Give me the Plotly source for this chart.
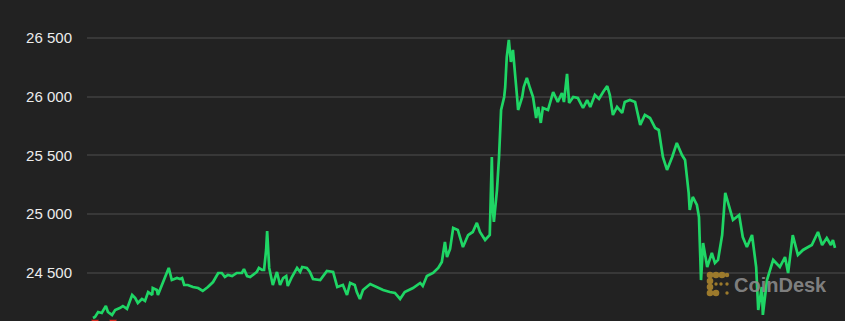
import plotly.graph_objects as go

# minutes since start of the window
minutes = [0, 4, 10, 17, 25, 29, 37, 43, 52, 58, 66, 76, 82, 87, 95, 101, 107, 115, 116, 124,
           126, 134, 144, 147, 153, 163, 169, 173, 177, 184, 194, 204, 213, 223, 233, 243, 250, 256, 262, 270,
           279, 289, 293, 299, 305, 311, 318, 322, 328, 332, 336, 338, 340, 342, 349, 357, 363, 369, 375, 378,
           386, 396, 402, 406, 415, 421, 427, 441, 454, 466, 474, 485, 493, 499, 508, 512, 518, 524, 538, 551,
           563, 576, 586, 596, 605, 621, 635, 640, 648, 660, 670, 677, 683, 687, 693, 699, 708, 718, 728, 737,
           745, 751, 761, 770, 772, 774, 776, 778, 784, 788, 792, 798, 800, 803, 807, 811, 815, 817, 823, 825,
           833, 836, 842, 848, 854, 860, 864, 869, 873, 883, 893, 902, 910, 914, 920, 924, 932, 941, 951, 959,
           965, 974, 982, 990, 998, 1003, 1009, 1017, 1027, 1032, 1042, 1052, 1062, 1071, 1081, 1091, 1098, 1106, 1114, 1124,
           1133, 1143, 1149, 1156, 1158, 1164, 1172, 1176, 1180, 1184, 1192, 1201, 1207, 1213, 1221, 1227, 1232, 1242, 1254, 1261,
           1269, 1279, 1287, 1291, 1298, 1300, 1308, 1320, 1333, 1343, 1349, 1358, 1368, 1378, 1388, 1395, 1407, 1415, 1424, 1432,
           1436, 1440]

price = [24117, 24126, 24168, 24160, 24219, 24168, 24143, 24185, 24202, 24219, 24194, 24313, 24287, 24245, 24279, 24262, 24338, 24313, 24372, 24355,
         24313, 24398, 24509, 24543, 24440, 24457, 24449, 24457, 24398, 24398, 24381, 24372, 24347, 24381, 24423, 24500, 24500, 24466, 24483, 24474,
         24500, 24500, 24534, 24474, 24466, 24483, 24509, 24543, 24526, 24526, 24696, 24857, 24738, 24543, 24398, 24509, 24398, 24457, 24474, 24389,
         24466, 24543, 24509, 24551, 24543, 24509, 24449, 24440, 24517, 24509, 24381, 24398, 24313, 24415, 24398, 24338, 24279, 24355, 24406, 24381,
         24355, 24338, 24330, 24279, 24338, 24372, 24415, 24389, 24474, 24500, 24543, 24594, 24764, 24636, 24704, 24883, 24866, 24721, 24823, 24849,
         24926, 24849, 24781, 24823, 25121, 25487, 25036, 24934, 25206, 25487, 25887, 25998, 26083, 26338, 26483, 26296, 26398, 26313, 25998, 25887,
         25998, 26083, 26160, 26074, 25998, 25819, 25913, 25777, 25904, 25887, 26040, 25955, 26032, 25955, 26194, 25947, 25998, 25989, 25904, 25972,
         25913, 26015, 25981, 26040, 26091, 26015, 25845, 25913, 25862, 25955, 25972, 25955, 25760, 25845, 25819, 25734, 25717, 25487, 25377, 25487,
         25606, 25504, 25462, 25181, 25036, 25147, 25079, 24977, 24440, 24755, 24551, 24670, 24585, 24611, 24823, 25181, 25096, 24951, 24994, 24806,
         24721, 24823, 24551, 24185, 24381, 24143, 24440, 24611, 24551, 24636, 24500, 24823, 24653, 24696, 24721, 24738, 24849, 24738, 24798, 24738,
         24781, 24713]

marker_minutes = [4, 39]
marker_price = [24088, 24088]

y_ticks = [24500, 25000, 25500, 26000, 26500]

BG = "#222222"
GREEN = "#1fd665"

fig = go.Figure()
fig.add_trace(go.Scatter(x=minutes, y=price, mode="lines",
                         line=dict(color=GREEN, width=2.7), hoverinfo="skip"))
fig.add_trace(go.Scatter(x=marker_minutes, y=marker_price, mode="markers",
                         marker=dict(symbol="triangle-down", size=7, color="#d42a1e"),
                         hoverinfo="skip"))

# CoinDesk watermark logo dots (paper coordinates)
W, H, L = 845, 321, 87
def px(x):
    return (x - L) / (W - L)
def py(y):
    return (H - y) / H

dots = [(710, 275, 3.3), (716, 275, 3.3), (722, 275, 3.3), (727, 275, 2.3),
        (710, 281, 3.3), (710, 287, 3.3), (710, 293, 3.3), (716, 293, 3.3),
        (716, 284, 1.7), (721, 284, 1.7), (727, 284, 1.7), (727, 293, 1.7)]
shapes = []
for (cx, cy, r) in dots:
    shapes.append(dict(type="circle", xref="paper", yref="paper",
                       x0=px(cx - r), x1=px(cx + r), y0=py(cy + r), y1=py(cy - r),
                       fillcolor="#9c7a2c", line=dict(width=0), layer="above"))

fig.update_layout(
    width=845, height=321,
    margin=dict(l=87, r=0, t=0, b=0),
    paper_bgcolor=BG, plot_bgcolor=BG,
    showlegend=False,
    separators=". ",
    hovermode=False,
    shapes=shapes,
    annotations=[dict(text="<b>CoinDesk</b>", xref="paper", yref="paper",
                      x=px(780), y=py(285), xanchor="center", yanchor="middle",
                      showarrow=False, font=dict(family="Liberation Sans, Arial, sans-serif",
                                                 size=20, color="rgba(140,140,140,0.9)"))],
    xaxis=dict(visible=False, range=[-11.6, 1459.4], fixedrange=True),
    yaxis=dict(range=[24091.5, 26823], tickvals=y_ticks, tickformat=",.0f",
               showgrid=True, gridcolor="#383838", gridwidth=2, zeroline=False,
               showline=False, ticks="", ticklabelstandoff=14,
               tickfont=dict(family="Liberation Sans, Arial, sans-serif", size=15, color="#ececec"),
               fixedrange=True),
)

fig.write_html("out.html")
